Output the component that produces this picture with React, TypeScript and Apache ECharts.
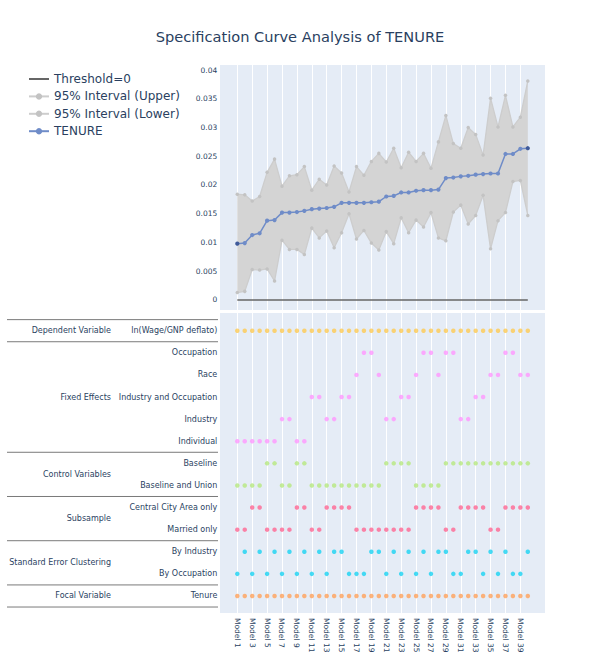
import React, { useEffect, useRef } from "react";
import * as echarts from "echarts";

// ---------- data ----------
const models = [
  "Model 1", "Model 2", "Model 3", "Model 4", "Model 5", "Model 6", "Model 7", "Model 8",
  "Model 9", "Model 10", "Model 11", "Model 12", "Model 13", "Model 14", "Model 15", "Model 16",
  "Model 17", "Model 18", "Model 19", "Model 20", "Model 21", "Model 22", "Model 23", "Model 24",
  "Model 25", "Model 26", "Model 27", "Model 28", "Model 29", "Model 30", "Model 31", "Model 32",
  "Model 33", "Model 34", "Model 35", "Model 36", "Model 37", "Model 38", "Model 39", "Model 40",
];

const coefficient = [
  0.0098, 0.0099, 0.0113, 0.0116, 0.0138, 0.0139, 0.0152, 0.0152, 0.0153, 0.0155,
  0.0158, 0.0159, 0.016, 0.0162, 0.0169, 0.0169, 0.0169, 0.0169, 0.017, 0.0171,
  0.018, 0.0181, 0.0187, 0.0187, 0.019, 0.0191, 0.0191, 0.0192, 0.0212, 0.0213,
  0.0215, 0.0216, 0.0218, 0.0219, 0.022, 0.022, 0.0254, 0.0254, 0.0263, 0.0264,
];

const upperBound = [
  0.0184, 0.0183, 0.0172, 0.018, 0.0222, 0.0245, 0.0198, 0.0216, 0.0218, 0.0232,
  0.0191, 0.021, 0.02, 0.0233, 0.0221, 0.0188, 0.0232, 0.0217, 0.0241, 0.0255,
  0.024, 0.0264, 0.023, 0.0257, 0.0241, 0.0255, 0.0229, 0.0275, 0.0321, 0.0272,
  0.0264, 0.03, 0.0288, 0.0252, 0.0351, 0.0301, 0.0356, 0.0301, 0.0318, 0.0381,
];

const lowerBound = [
  0.0013, 0.0015, 0.0053, 0.0052, 0.0054, 0.0033, 0.0104, 0.0088, 0.0088, 0.0079,
  0.0125, 0.0108, 0.012, 0.0091, 0.0117, 0.015, 0.0106, 0.0121, 0.0099, 0.0087,
  0.0119, 0.0098, 0.0143, 0.0117, 0.0139, 0.0127, 0.0152, 0.0108, 0.0103, 0.0153,
  0.0165, 0.0132, 0.0147, 0.0182, 0.0089, 0.0138, 0.0152, 0.0206, 0.0208, 0.0147,
];

const THRESHOLD = 0;

const rowLabels = [
  "ln(Wage/GNP deflato)",
  "Occupation",
  "Race",
  "Industry and Occupation",
  "Industry",
  "Individual",
  "Baseline",
  "Baseline and Union",
  "Central City Area only",
  "Married only",
  "By Industry",
  "By Occupation",
  "Tenure",
];

const groupNames = [
  "Dependent Variable",
  "Fixed Effects",
  "Control Variables",
  "Subsample",
  "Standard Error Clustering",
  "Focal Variable",
];
const groupSizes = [1, 5, 2, 2, 2, 1];
const groupColors = ["#FECB52", "#FF97FF", "#B6E880", "#FF6692", "#19D3F3", "#FFA15A"];

// model numbers (1-based) that use each specification row
const depVarModels = [
  1, 2, 3, 4, 5, 6, 7, 8, 9, 10, 11, 12, 13, 14, 15, 16, 17, 18, 19, 20,
  21, 22, 23, 24, 25, 26, 27, 28, 29, 30, 31, 32, 33, 34, 35, 36, 37, 38, 39, 40,
];
const occupationModels = [18, 19, 26, 27, 29, 30, 37, 38];
const raceModels = [17, 20, 25, 28, 35, 36, 39, 40];
const indOccModels = [11, 12, 15, 16, 23, 24, 33, 34];
const industryModels = [7, 8, 13, 14, 21, 22, 31, 32];
const individualModels = [1, 2, 3, 4, 5, 6, 9, 10];
const baselineModels = [5, 6, 9, 10, 21, 22, 23, 24, 29, 30, 31, 32, 33, 34, 35, 36, 37, 38, 39, 40];
const unionModels = [1, 2, 3, 4, 7, 8, 11, 12, 13, 14, 15, 16, 17, 18, 19, 20, 25, 26, 27, 28];
const centralCityModels = [3, 4, 9, 10, 13, 14, 15, 16, 25, 26, 27, 28, 31, 32, 33, 34, 37, 38, 39, 40];
const marriedModels = [1, 2, 5, 6, 7, 8, 11, 12, 17, 18, 19, 20, 21, 22, 23, 24, 29, 30, 35, 36];
const byIndustryModels = [2, 4, 6, 8, 10, 12, 14, 15, 19, 20, 22, 24, 26, 28, 29, 32, 33, 35, 37, 40];
const byOccupationModels = [1, 3, 5, 7, 9, 11, 13, 16, 17, 18, 21, 23, 25, 27, 30, 31, 34, 36, 38, 39];
const tenureModels = [
  1, 2, 3, 4, 5, 6, 7, 8, 9, 10, 11, 12, 13, 14, 15, 16, 17, 18, 19, 20,
  21, 22, 23, 24, 25, 26, 27, 28, 29, 30, 31, 32, 33, 34, 35, 36, 37, 38, 39, 40,
];

const rowModels = [
  depVarModels, occupationModels, raceModels, indOccModels, industryModels, individualModels,
  baselineModels, unionModels, centralCityModels, marriedModels, byIndustryModels,
  byOccupationModels, tenureModels,
];

// ---------- layout ----------
const FONT = "DejaVu Sans";
const TEXT = "#2a3f5f";
const BG = "#E5ECF6";
const PLOT_L = 220;
const PLOT_R = 545;
const X_FIRST = 237.3;
const X_LAST = 527.8;
const TOP_T = 65;
const TOP_B = 310;
const BOT_T = 313;
const BOT_B = 613;
const Y_MIN = -0.00174;
const Y_MAX = 0.04087;
const ROW_MIN = -0.8;
const ROW_MAX = 12.77;

const rowY = (r: number) => BOT_T + ((r - ROW_MIN) / (ROW_MAX - ROW_MIN)) * (BOT_B - BOT_T);

function buildOption() {
  const graphics: any[] = [
    { type: "rect", z: -10, shape: { x: PLOT_L, y: TOP_T, width: PLOT_R - PLOT_L, height: TOP_B - TOP_T }, style: { fill: BG } },
    { type: "rect", z: -10, shape: { x: PLOT_L, y: BOT_T, width: PLOT_R - PLOT_L, height: BOT_B - BOT_T }, style: { fill: BG } },
  ];
  // table separators & group labels
  let start = 0;
  const boundaries = [-0.5];
  groupSizes.forEach((size, gi) => {
    const end = start + size - 1;
    boundaries.push(end + 0.5);
    graphics.push({
      type: "text",
      x: 111,
      y: rowY((start + end) / 2),
      style: {
        text: groupNames[gi],
        fill: TEXT,
        fontSize: 8,
        fontFamily: FONT,
        align: "right",
        verticalAlign: "middle",
      },
    });
    start = end + 1;
  });
  boundaries.forEach((b) => {
    graphics.push({
      type: "line",
      shape: { x1: 7, y1: rowY(b), x2: 218, y2: rowY(b) },
      style: { stroke: "#7a7a7a", lineWidth: 1 },
    });
  });

  // dot matrix series
  const dotSeries: any[] = [];
  let r0 = 0;
  groupSizes.forEach((size, gi) => {
    const data: any[] = [];
    for (let r = r0; r < r0 + size; r++) {
      rowModels[r].forEach((m) => data.push([models[m - 1], r]));
    }
    dotSeries.push({
      name: groupNames[gi],
      type: "scatter",
      xAxisIndex: 1,
      yAxisIndex: 1,
      symbol: "circle",
      symbolSize: 4.5,
      itemStyle: { color: groupColors[gi] },
      data,
      silent: true,
    });
    r0 += size;
  });

  const band = upperBound.map((u, i) => +(u - lowerBound[i]).toFixed(6));
  const tenureData = coefficient.map((v, i) =>
    i === 0 || i === coefficient.length - 1
      ? { value: v, itemStyle: { color: "#3f5a9a" } }
      : v
  );

  return {
    animation: false,
    textStyle: { fontFamily: FONT },
    title: {
      text: "Specification Curve Analysis of TENURE",
      left: "center",
      top: 29,
      padding: 0,
      textStyle: { fontSize: 14.6, fontWeight: "normal", color: TEXT, fontFamily: FONT },
    },
    legend: {
      data: [
        { name: "Threshold=0", itemStyle: { opacity: 0 } },
        { name: "95% Interval (Upper)" },
        { name: "95% Interval (Lower)" },
        { name: "TENURE" },
      ],
      orient: "vertical",
      left: 28,
      top: 72,
      padding: 0,
      itemWidth: 20,
      itemHeight: 8,
      itemGap: 3.4,
      textStyle: { fontSize: 12, color: TEXT, lineHeight: 14, fontFamily: FONT },
    },
    grid: [
      { left: X_FIRST, right: 600 - X_LAST, top: TOP_T, height: TOP_B - TOP_T },
      { left: X_FIRST, right: 600 - X_LAST, top: BOT_T, height: BOT_B - BOT_T },
    ],
    xAxis: [
      {
        type: "category",
        gridIndex: 0,
        data: models,
        boundaryGap: false,
        axisLine: { show: false },
        axisTick: { show: false },
        axisLabel: { show: false },
        splitLine: { show: true, interval: 1, lineStyle: { color: "#ffffff", width: 1 } },
      },
      {
        type: "category",
        gridIndex: 1,
        data: models,
        boundaryGap: false,
        axisLine: { show: false },
        axisTick: { show: false },
        axisLabel: { interval: 1, rotate: -90, fontSize: 7.5, color: TEXT, margin: 5, fontFamily: FONT },
        splitLine: { show: true, interval: 1, lineStyle: { color: "#ffffff", width: 1 } },
      },
    ],
    yAxis: [
      {
        type: "value",
        gridIndex: 0,
        min: Y_MIN,
        max: Y_MAX,
        splitNumber: 8,
        axisLine: { show: false },
        axisTick: { show: false },
        splitLine: { show: false },
        axisLabel: {
          fontSize: 7.5,
          color: TEXT,
          margin: 20,
          fontFamily: FONT,
          showMinLabel: false,
          showMaxLabel: false,
          formatter: (v: number) => {
            const k = v / 0.005;
            if (Math.abs(k - Math.round(k)) > 1e-6) return "";
            return String(+v.toFixed(4));
          },
        },
      },
      {
        type: "value",
        gridIndex: 1,
        inverse: true,
        min: ROW_MIN,
        max: ROW_MAX,
        splitNumber: 13,
        axisLine: { show: false },
        axisTick: { show: false },
        splitLine: { show: false },
        axisLabel: {
          fontSize: 8,
          color: TEXT,
          margin: 20,
          fontFamily: FONT,
          showMinLabel: false,
          showMaxLabel: false,
          formatter: (v: number) => {
            const r = Math.round(v);
            if (Math.abs(v - r) > 1e-6 || r < 0 || r >= rowLabels.length) return "";
            return rowLabels[r];
          },
        },
      },
    ],
    graphic: { elements: graphics },
    series: [
      {
        name: "band-base",
        type: "line",
        xAxisIndex: 0,
        yAxisIndex: 0,
        stack: "band",
        data: lowerBound,
        symbol: "none",
        lineStyle: { opacity: 0 },
        silent: true,
        z: 1,
      },
      {
        name: "band-fill",
        type: "line",
        xAxisIndex: 0,
        yAxisIndex: 0,
        stack: "band",
        data: band,
        symbol: "none",
        lineStyle: { opacity: 0 },
        areaStyle: { color: "#d4d4d4", opacity: 1 },
        silent: true,
        z: 1,
      },
      {
        name: "95% Interval (Upper)",
        type: "line",
        xAxisIndex: 0,
        yAxisIndex: 0,
        data: upperBound,
        symbol: "circle",
        symbolSize: 3.5,
        lineStyle: { color: "#cdcdcd", width: 1.3 },
        itemStyle: { color: "#c3c3c3" },
        z: 2,
      },
      {
        name: "95% Interval (Lower)",
        type: "line",
        xAxisIndex: 0,
        yAxisIndex: 0,
        data: lowerBound,
        symbol: "circle",
        symbolSize: 3.5,
        lineStyle: { color: "#cdcdcd", width: 1.3 },
        itemStyle: { color: "#c3c3c3" },
        z: 2,
      },
      {
        name: "Threshold=0",
        type: "line",
        xAxisIndex: 0,
        yAxisIndex: 0,
        data: models.map(() => THRESHOLD),
        symbol: "none",
        lineStyle: { color: "#666666", width: 1.5 },
        itemStyle: { color: "#666666" },
        z: 3,
      },
      {
        name: "TENURE",
        type: "line",
        xAxisIndex: 0,
        yAxisIndex: 0,
        data: tenureData,
        symbol: "circle",
        symbolSize: 4.2,
        showAllSymbol: true,
        lineStyle: { color: "#6f8cc8", width: 1.5 },
        itemStyle: { color: "#6f8cc8" },
        z: 4,
      },
      ...dotSeries,
    ],
  };
}

export default function App() {
  const ref = useRef<HTMLDivElement>(null);
  useEffect(() => {
    if (!ref.current) return;
    const chart = echarts.init(ref.current, undefined, { renderer: "svg" });
    chart.setOption(buildOption() as any);
    return () => chart.dispose();
  }, []);
  return (
    <div
      ref={ref}
      style={{ position: "absolute", left: 0, top: 0, width: 600, height: 667 }}
    />
  );
}
